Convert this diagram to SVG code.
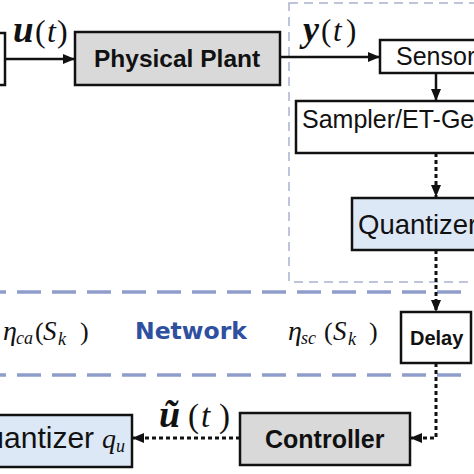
<svg xmlns="http://www.w3.org/2000/svg" width="474" height="474" viewBox="0 0 474 474">
<defs>
<style>
.box{stroke:#111;stroke-width:2.5}
.white{fill:#fff}
.gray{fill:#d9d9d9}
.blue{fill:#dde8f6}
.lbl{font-family:"Liberation Sans",Arial,sans-serif;fill:#111}
.bold{font-weight:bold}
.math{font-family:"Liberation Serif","Times New Roman",serif;fill:#111}
.it{font-style:italic}
.bi{font-style:italic;font-weight:bold}
.solid{stroke:#111;stroke-width:2.5;fill:none}
.dot{stroke:#111;stroke-width:3;fill:none;stroke-dasharray:4 3}
.net{stroke:#8f9dca;stroke-width:3.5;stroke-dasharray:24 11;stroke-dashoffset:18;fill:none}
</style>
<marker id="ah" markerUnits="userSpaceOnUse" markerWidth="12" markerHeight="12" viewBox="0 0 12 12" refX="12" refY="6" orient="auto">
<path d="M0,1 L12,6 L0,11 Z" fill="#111"/>
</marker>
</defs>

<rect x="289" y="3" width="220" height="279" fill="none" stroke="#a9b3cf" stroke-width="1.5" stroke-dasharray="9 6"/>
<line class="net" x1="0" y1="292" x2="464" y2="292"/>
<line class="net" x1="0" y1="375" x2="464" y2="375"/>

<g id="actuator"><rect class="box white" x="-50" y="33" width="55" height="52"/></g>
<g id="plant"><rect class="box gray" x="75" y="32" width="205" height="53"/>
<text class="lbl bold" x="94" y="67" font-size="24.5">Physical Plant</text></g>
<g id="sensor"><rect class="box white" x="380" y="40" width="120" height="33"/>
<text class="lbl" x="396" y="65" font-size="25">Sensor</text></g>
<g id="sampler"><rect class="box white" x="296" y="101" width="210" height="52"/>
<text class="lbl" x="302" y="128" font-size="25">Sampler/ET-Generator</text></g>
<g id="quantizer"><rect class="box blue" x="352" y="198" width="150" height="52"/>
<text class="lbl" x="358" y="234" font-size="27.5">Quantizer</text></g>
<g id="delay"><rect class="box white" x="401" y="312" width="70" height="51"/>
<text class="lbl bold" x="410" y="345" font-size="20">Delay</text></g>
<g id="controller"><rect class="box gray" x="240" y="413" width="170" height="52"/>
<text class="lbl bold" x="265" y="448" font-size="25">Controller</text></g>
<g id="quantizer-u"><rect class="box blue" x="-50" y="415" width="182" height="52"/>
<text y="448"><tspan class="lbl" x="-36" font-size="30">Quantizer</tspan><tspan class="math it" x="102" font-size="28">q</tspan><tspan class="math it" x="116" y="452" font-size="18">u</tspan></text></g>

<g id="connectors">
<line class="solid" x1="5" y1="59" x2="75" y2="59" marker-end="url(#ah)"/>
<line class="solid" x1="280" y1="57" x2="380" y2="57" marker-end="url(#ah)"/>
<line class="solid" x1="436" y1="73" x2="436" y2="101" marker-end="url(#ah)"/>
<line class="dot" x1="436" y1="153" x2="436" y2="197" marker-end="url(#ah)"/>
<line class="dot" x1="436" y1="250" x2="436" y2="312" marker-end="url(#ah)"/>
<path class="dot" d="M436,363 V438 H410" marker-end="url(#ah)"/>
<line class="dot" x1="240" y1="438" x2="132" y2="438" marker-end="url(#ah)"/>
</g>

<g id="labels">
<text class="math" y="42" font-size="32"><tspan class="bi" x="13" font-size="37">u</tspan><tspan x="35">(</tspan><tspan class="it" x="47">t</tspan><tspan x="57">)</tspan></text>
<text class="math" y="41" font-size="31"><tspan class="bi" x="303" font-size="36">y</tspan><tspan x="321">(</tspan><tspan class="it" x="333">t</tspan><tspan x="346">)</tspan></text>
<text class="math" y="427" font-size="33"><tspan class="bi" x="159" font-size="38">ũ</tspan><tspan x="188">(</tspan><tspan class="it" x="201">t</tspan><tspan x="219">)</tspan></text>
<text class="math" y="340" font-size="26"><tspan class="it" x="3" font-size="28">η</tspan><tspan class="it" x="16" y="344" font-size="18">ca</tspan><tspan x="35" y="340">(</tspan><tspan class="it" x="43" font-size="27">S</tspan><tspan class="it" x="58" y="345" font-size="18">k</tspan><tspan x="80" y="340">)</tspan></text>
<text class="math" y="340" font-size="26"><tspan class="it" x="288" font-size="28">η</tspan><tspan class="it" x="301" y="344" font-size="18">sc</tspan><tspan x="324" y="340">(</tspan><tspan class="it" x="333" font-size="27">S</tspan><tspan class="it" x="348" y="345" font-size="18">k</tspan><tspan x="369" y="340">)</tspan></text>
<text x="135" y="339" font-family="'DejaVu Sans',Verdana,sans-serif" font-weight="bold" font-size="23.5" fill="#2f4f9f">Network</text>
</g>
</svg>
